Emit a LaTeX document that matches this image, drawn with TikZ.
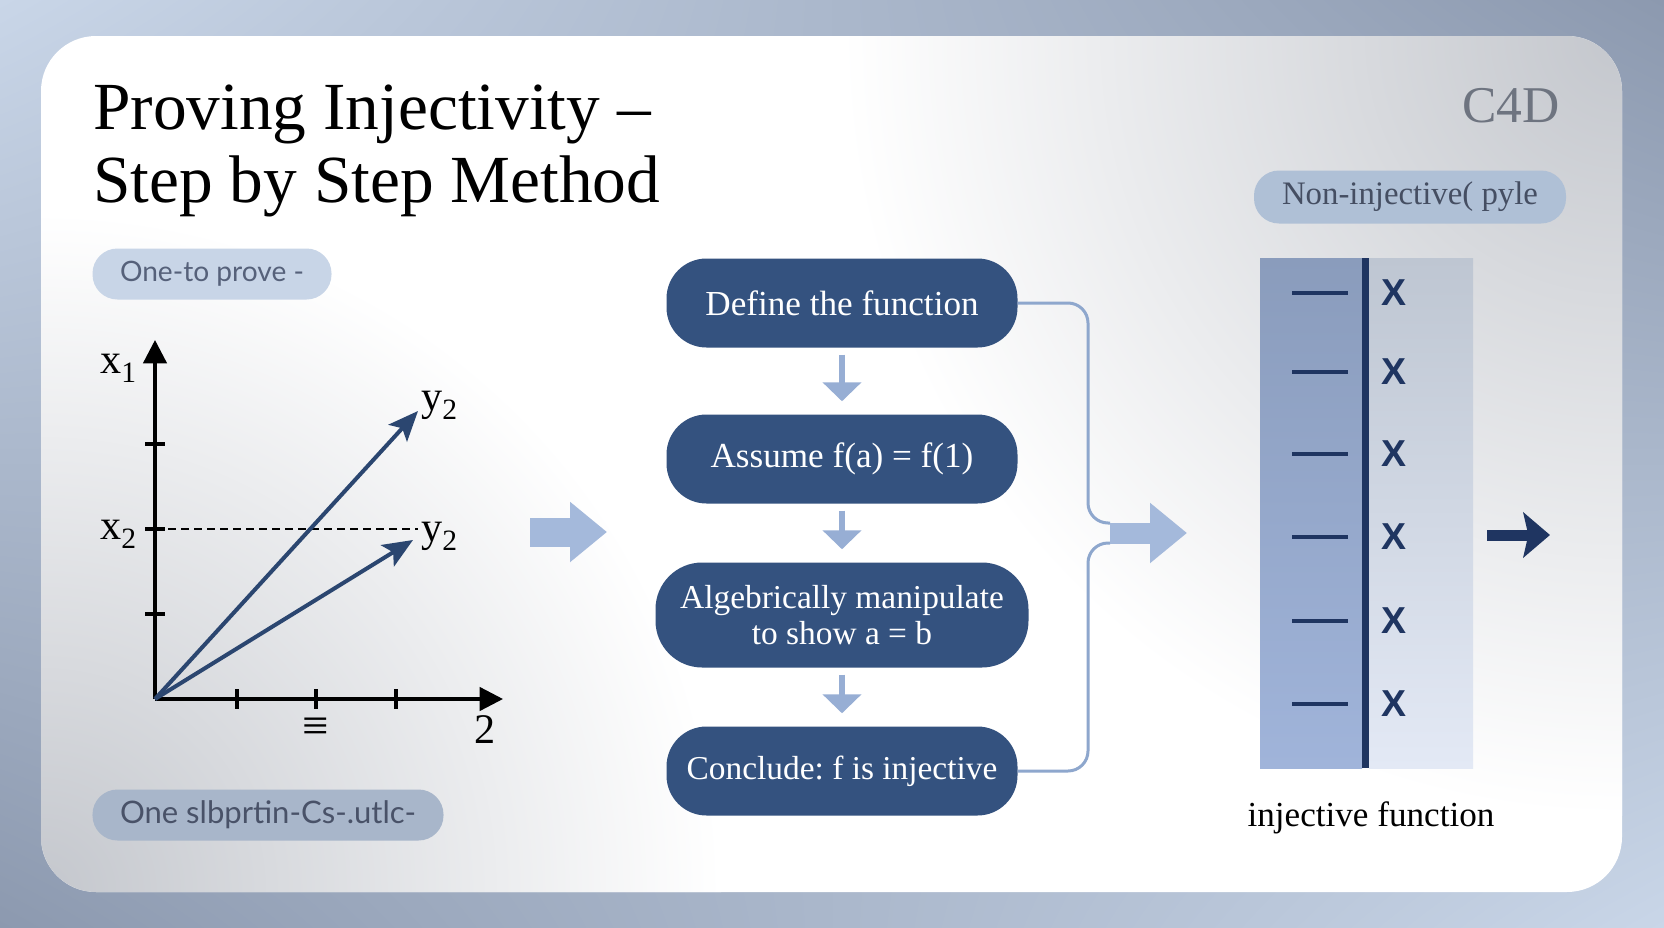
\documentclass[tikz,border=0pt]{standalone}
\usepackage{fontspec}
\setmainfont{Liberation Serif}
\setsansfont{Liberation Sans}
\newfontfamily\pillfont{Lato}
\usetikzlibrary{arrows.meta,positioning,shadings}

\definecolor{bgpale}{HTML}{C9D6E8}
\definecolor{bgslate}{HTML}{8C99AF}
\definecolor{cardgray}{HTML}{C4C7CD}
\definecolor{stepnavy}{HTML}{34527F}
\definecolor{inknavy}{HTML}{1F3561}
\definecolor{vecnavy}{HTML}{2B4670}
\definecolor{flowblue}{HTML}{97AED4}
\definecolor{fatblue}{HTML}{A4B9DB}
\definecolor{linkblue}{HTML}{8EA7CD}
\definecolor{pillblue}{HTML}{C8D5E7}
\definecolor{pillslate}{HTML}{A8B6CA}
\definecolor{pillsteel}{HTML}{AFC0D6}
\definecolor{pilltext}{HTML}{56617A}
\definecolor{brandgray}{HTML}{6E7480}
\definecolor{colleft}{HTML}{A0B4DA}
\definecolor{colleftdark}{HTML}{8A9CBC}
\definecolor{colright}{HTML}{E3E9F5}
\definecolor{colrighttop}{HTML}{BEC6D2}

\frenchspacing
\begin{document}
\begin{tikzpicture}
    [x=0.3mm, y=-0.3mm,
    node distance=46.8mm,
    stepbox/.style={fill=stepnavy, text=white, rounded corners=12mm, minimum width=105.3mm, minimum height=26.7mm, align=center, inner sep=0pt, font=\fontsize{30}{31}\selectfont},
    pill/.style={rounded corners=7.5mm, minimum height=15.3mm, inner sep=0pt, text=pilltext, font=\pillfont\fontsize{24}{24}\selectfont},
    flow/.style={draw=flowblue, line width=1.8mm, -{Triangle[length=5.7mm, width=11.4mm]}, shorten <=2.1mm, shorten >=3.9mm},
    link/.style={draw=linkblue, line width=0.9mm, rounded corners=6mm},
    fat/.style={line width=#1, -{Triangle[length=11.1mm, width=17.4mm]}},
    axis/.style={line width=1mm, -{Triangle[length=7mm, width=7mm]}},
    vec/.style={draw=vecnavy, line width=1.2mm, -{Stealth[length=9mm, width=7.5mm, inset=2mm]}},
    lbl/.style={font=\fontsize{36}{36}\selectfont, inner sep=0pt}]
        \useasboundingbox (0,0) rectangle (1664,928);
        \shade[upper left=bgpale, upper right=bgslate, lower left=bgslate, lower right=bgpale] (0,0) rectangle (1664,928);
        \fill[white, rounded corners=16.5mm] (41,36) rectangle (1622,892);
        \begin{scope}
            \clip[rounded corners=16.5mm] (41,36) rectangle (1622,892);
            \shade[inner color=cardgray, outer color=white] (1622,36) circle (780);
            \shade[inner color=cardgray, outer color=white] (41,892) circle (680);
        \end{scope}

        %% Title
        \node[anchor=base west, inner sep=0pt, font=\fontsize{57.5}{58}\selectfont] (T1) at (93,129) {Proving Injectivity –};
        \node[anchor=base west, inner sep=0pt, font=\fontsize{57.5}{58}\selectfont] (T2) at (93,202) {Step by Step Method};
        \node[anchor=base east, inner sep=0pt, text=brandgray, font=\fontsize{44}{44}\selectfont] (brand) at (1560,122) {C4D};

        %% Pills
        \node[pill, fill=pillblue, minimum width=71.7mm] (P1) at (212,274) {One-to prove -};
        \node[pill, fill=pillslate, minimum width=105.3mm, text=pilltext!85!black, font=\pillfont\fontsize{26.5}{26}\selectfont] (P2) at (268,815) {One slbprtin-Cs-.utlc-};
        \node[pill, fill=pillsteel, minimum width=93.6mm, minimum height=15.9mm, text=pilltext!80!black, font=\fontsize{28}{28}\selectfont] (P3) at (1410,197) {Non-injective( pyle};

        %% Graph
        \coordinate (O) at (155,699);
        \coordinate (Ytop) at (155,340);
        \coordinate (Xend) at (503,699);
        \draw[axis] (O) -- (Ytop);
        \draw[axis] (O) -- (Xend);
        \foreach \y in {444,529,614} \draw[line width=1mm] (145,\y) -- (165,\y);
        \foreach \x in {237,316,396} \draw[line width=1mm] (\x,689) -- (\x,709);
        \draw[line width=0.5mm, dash pattern=on 2.4mm off 1.5mm] (155,529) -- (418,529);
        \coordinate (V1) at (418,411);
        \coordinate (V2) at (413,540);
        \draw[vec] (O) -- (V1);
        \draw[vec] (O) -- (V2);
        \node[lbl, anchor=base west] (x1) at (100,373) {x\textsubscript{1}};
        \node[lbl, anchor=base west] (x2) at (100,539) {x\textsubscript{2}};
        \node[lbl, anchor=base west] (y1) at (421,410) {y\textsubscript{2}};
        \node[lbl, anchor=base west] (y2) at (421,541) {y\textsubscript{2}};
        \node[lbl, font=\fontsize{40}{40}\selectfont] (eq) at (316,730) {≡};
        \node[lbl, anchor=base] (two) at (485,743) {2};

        \draw[fat=8.7mm, fatblue] (530,532) -- (607,532);

        %% Steps
        \node[stepbox] (S1) at (842,303) {Define the function};
        \node[stepbox, below of=S1] (S2) {Assume f(a) = f(1)};
        \node[stepbox, below of=S2, minimum width=111.9mm, minimum height=31.5mm, rounded corners=14mm, font=\fontsize{28.5}{30}\selectfont] (S3) {Algebrically manipulate\\to show a = b};
        \node[stepbox, below of=S3, font=\fontsize{28.5}{30}\selectfont] (S4) {Conclude: f is injective};

        \draw[flow] (S1) to (S2);
        \draw[flow] (S2) to (S3);
        \draw[flow] (S3) to (S4);

        \coordinate (J) at (1088,533);
        \coordinate (M) at (1110,533);
        \coordinate (Mtip) at (1187,533);
        \draw[link] (S1.east) -| ([yshift=3mm]J) -- ([yshift=3mm]M);
        \draw[link] (S4.east) -| ([yshift=-3mm]J) -- ([yshift=-3mm]M);
        \draw[fat=6.3mm, fatblue] (M) -- (Mtip);

        %% Column
        \shade[top color=colleftdark, bottom color=colleft] (1260,258) rectangle (1362,768);
        \shade[top color=colrighttop, bottom color=colright] (1369,258) rectangle (1473,768);
        \fill[inknavy] (1362,258) rectangle (1369,768);
        \foreach \y [count=\i] in {293,372,454,537,621,704} {
            \draw[inknavy, line width=1.2mm] (1292,\y) -- (1348,\y);
            \node[text=inknavy, font=\sffamily\bfseries\fontsize{32}{32}\selectfont] (X\i) at (1394,\y) {X};
        }
        \draw[inknavy, line width=3.3mm, -{Stealth[length=8mm, width=13.5mm, inset=1.5mm]}] (1487,535) -- (1550,535);
        \node[anchor=base, inner sep=0pt, font=\fontsize{30}{30}\selectfont] (caption) at (1371,826) {injective function};
    \end{tikzpicture}
\end{document}
